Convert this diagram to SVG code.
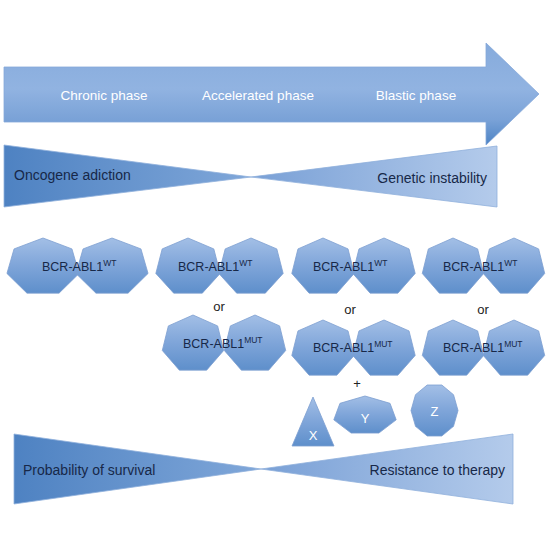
<svg xmlns="http://www.w3.org/2000/svg" width="550" height="550" viewBox="0 0 550 550">
<defs>
<linearGradient id="gArrow" x1="0" y1="0" x2="0" y2="1">
<stop offset="0" stop-color="#86abdc"/>
<stop offset="0.45" stop-color="#91b3e1"/>
<stop offset="0.75" stop-color="#7aa2d7"/>
<stop offset="1" stop-color="#4d84c5"/>
</linearGradient>
<linearGradient id="gLeft" x1="0" y1="0" x2="1" y2="0">
<stop offset="0" stop-color="#4e82c2"/>
<stop offset="1" stop-color="#80a7d9"/>
</linearGradient>
<linearGradient id="gRight" x1="0" y1="0" x2="1" y2="0">
<stop offset="0" stop-color="#79a0d6"/>
<stop offset="1" stop-color="#b4cbeb"/>
</linearGradient>
<linearGradient id="gShape" x1="0" y1="0" x2="0" y2="1">
<stop offset="0" stop-color="#a3bfe6"/>
<stop offset="0.5" stop-color="#7fa5d9"/>
<stop offset="1" stop-color="#5e8fcb"/>
</linearGradient>
</defs>
<style>
.shape{fill:url(#gShape);stroke:#7c9ed0;stroke-width:0.8;}
.tri{stroke:#8fb0dc;stroke-width:0.8;}
.lbl{font-family:"Liberation Sans",Arial,sans-serif;font-size:12.5px;fill:#172848;}
.sup{font-size:8.5px;}
.ph{font-family:"Liberation Sans",Arial,sans-serif;font-size:13.5px;fill:#ffffff;text-anchor:middle;}
.bt{font-family:"Liberation Sans",Arial,sans-serif;font-size:14px;fill:#172848;}
.or{font-family:"Liberation Sans",Arial,sans-serif;font-size:13px;fill:#222222;text-anchor:middle;}
.wt{font-family:"Liberation Sans",Arial,sans-serif;font-size:13px;fill:#ffffff;text-anchor:middle;}
</style>
<rect width="550" height="550" fill="#ffffff"/>

<g id="phase-arrow">
<polygon points="4,67 486,67 486,43 539,94 486,145 486,122 4,122" fill="url(#gArrow)" stroke="#86a8d9" stroke-width="0.8"/>
<text class="ph" x="104" y="99.5">Chronic phase</text>
<text class="ph" x="258" y="99.5">Accelerated phase</text>
<text class="ph" x="416" y="99.5">Blastic phase</text>
</g>

<g id="top-bowtie">
<polygon class="tri" points="4,145 251,177 4,207" fill="url(#gLeft)"/>
<polygon class="tri" points="251,177 497,146 497,207" fill="url(#gRight)"/>
<text class="bt" x="14" y="180">Oncogene adiction</text>
<text class="bt" x="487" y="182.5" text-anchor="end">Genetic instability</text>
</g>

<g id="pair1-wt">
<polygon class="shape" points="43,238 71.93,248.92 79.07,273.45 59.05,293.13 26.95,293.13 6.93,273.45 14.07,248.92"/>
<polygon class="shape" points="112,238 140.93,248.92 148.07,273.45 128.05,293.13 95.95,293.13 75.93,273.45 83.07,248.92"/>
<text class="lbl" x="42" y="270.5">BCR-ABL1<tspan class="sup" dy="-5">WT</tspan></text>
</g>

<g id="pair2-wt">
<polygon class="shape" points="188,238 213.8,248.92 220.17,273.45 202.32,293.13 173.68,293.13 155.83,273.45 162.2,248.92"/>
<polygon class="shape" points="251,238 276.8,248.92 283.17,273.45 265.32,293.13 236.68,293.13 218.83,273.45 225.2,248.92"/>
<text class="lbl" x="178" y="270.5">BCR-ABL1<tspan class="sup" dy="-5">WT</tspan></text>
</g>

<g id="pair3-wt">
<polygon class="shape" points="323,238 348.02,248.92 354.2,273.45 336.88,293.13 309.12,293.13 291.8,273.45 297.98,248.92"/>
<polygon class="shape" points="384,238 409.02,248.92 415.2,273.45 397.88,293.13 370.12,293.13 352.8,273.45 358.98,248.92"/>
<text class="lbl" x="313" y="270.5">BCR-ABL1<tspan class="sup" dy="-5">WT</tspan></text>
</g>

<g id="pair4-wt">
<polygon class="shape" points="453,238 477.63,248.92 483.71,273.45 466.67,293.13 439.33,293.13 422.29,273.45 428.37,248.92"/>
<polygon class="shape" points="514,238 538.63,248.92 544.71,273.45 527.67,293.13 500.33,293.13 483.29,273.45 489.37,248.92"/>
<text class="lbl" x="443" y="270.5">BCR-ABL1<tspan class="sup" dy="-5">WT</tspan></text>
</g>

<g id="or-labels">
<text class="or" x="219" y="310.5">or</text>
<text class="or" x="350" y="313.5">or</text>
<text class="or" x="483" y="313.5">or</text>
</g>

<g id="pair2-mut">
<polygon class="shape" points="193,315 217.63,325.92 223.71,350.45 206.67,370.13 179.33,370.13 162.29,350.45 168.37,325.92"/>
<polygon class="shape" points="255,315 279.63,325.92 285.71,350.45 268.67,370.13 241.33,370.13 224.29,350.45 230.37,325.92"/>
<text class="lbl" x="183" y="347.5">BCR-ABL1<tspan class="sup" dy="-5">MUT</tspan></text>
</g>

<g id="pair3-mut">
<polygon class="shape" points="323,320 348.02,330.92 354.2,355.45 336.88,375.13 309.12,375.13 291.8,355.45 297.98,330.92"/>
<polygon class="shape" points="384,320 409.02,330.92 415.2,355.45 397.88,375.13 370.12,375.13 352.8,355.45 358.98,330.92"/>
<text class="lbl" x="313" y="351.5">BCR-ABL1<tspan class="sup" dy="-5">MUT</tspan></text>
</g>

<g id="pair4-mut">
<polygon class="shape" points="453,320 477.63,330.92 483.71,355.45 466.67,375.13 439.33,375.13 422.29,355.45 428.37,330.92"/>
<polygon class="shape" points="514,320 538.63,330.92 544.71,355.45 527.67,375.13 500.33,375.13 483.29,355.45 489.37,330.92"/>
<text class="lbl" x="443" y="351.5">BCR-ABL1<tspan class="sup" dy="-5">MUT</tspan></text>
</g>

<g id="plus">
<text class="or" x="357" y="387.5" font-size="12">+</text>
</g>

<g id="shape-x">
<polygon class="shape" points="313,397 334,446 292,446"/>
<text class="wt" x="313" y="439.5">X</text>
</g>

<g id="shape-y">
<polygon class="shape" points="365,396 390.02,403.34 396.2,419.84 378.88,433.07 351.12,433.07 333.8,419.84 339.98,403.34"/>
<text class="wt" x="365" y="422.5">Y</text>
</g>

<g id="shape-z">
<polygon class="shape" points="441.8,385 453.5,394.7 458,410.5 453.5,426.3 441.8,436 427.2,436 415.5,426.3 411,410.5 415.5,394.7 427.2,385"/>
<text class="wt" x="434.5" y="415.5">Z</text>
</g>

<g id="bottom-bowtie">
<polygon class="tri" points="14,434 261,469 14,504" fill="url(#gLeft)"/>
<polygon class="tri" points="261,469 513,434 513,504" fill="url(#gRight)"/>
<text class="bt" x="23" y="474.5">Probability of survival</text>
<text class="bt" x="505" y="474.5" text-anchor="end">Resistance to therapy</text>
</g>
</svg>
